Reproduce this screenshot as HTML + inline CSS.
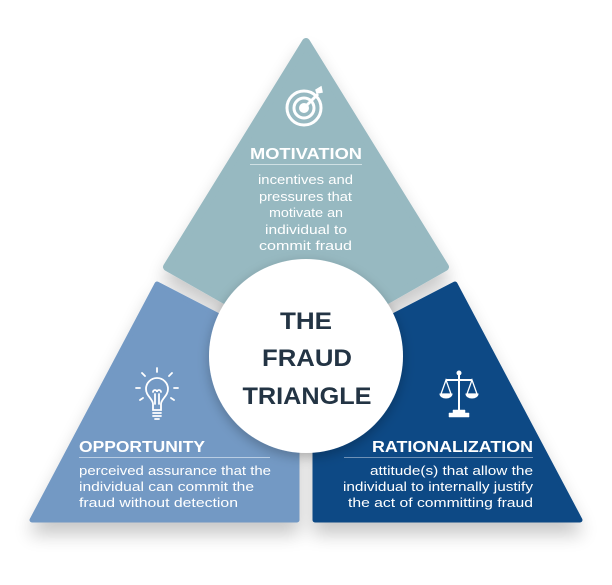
<!DOCTYPE html>
<html><head><style>
html,body{margin:0;padding:0;background:#fff;}
svg{display:block;font-family:"Liberation Sans",sans-serif;}
</style></head><body>
<svg width="612" height="585" viewBox="0 0 612 585" xmlns="http://www.w3.org/2000/svg">
<defs>
<filter id="sh" x="-20%" y="-20%" width="140%" height="150%">
<feGaussianBlur in="SourceAlpha" stdDeviation="9"/>
<feOffset dx="0" dy="12"/>
<feComponentTransfer><feFuncA type="linear" slope="0.22"/></feComponentTransfer>
<feMerge><feMergeNode/><feMergeNode in="SourceGraphic"/></feMerge>
</filter>
<filter id="sh2" x="-20%" y="-20%" width="140%" height="140%">
<feGaussianBlur in="SourceAlpha" stdDeviation="6"/>
<feOffset dx="0" dy="4"/>
<feComponentTransfer><feFuncA type="linear" slope="0.25"/></feComponentTransfer>
<feMerge><feMergeNode/><feMergeNode in="SourceGraphic"/></feMerge>
</filter>
</defs>
<g filter="url(#sh)">
<polygon points="306,42 445,267 387,300 306,320 225,300 167,267" fill="#97b9c1" stroke="#97b9c1" stroke-width="8" stroke-linejoin="round"/>
<polygon points="157,284 217,315 297,358 297,520 32,520" fill="#7399c4" stroke="#7399c4" stroke-width="5" stroke-linejoin="round"/>
<polygon points="455,284 395,315 315,358 315,520 580,520" fill="#0d4a85" stroke="#0d4a85" stroke-width="5" stroke-linejoin="round"/>
</g>
<circle cx="306" cy="356" r="97" fill="#fff" filter="url(#sh2)"/>
<g fill="#233444" font-weight="bold" font-size="24" text-anchor="middle">
<text x="306" y="329" textLength="52" lengthAdjust="spacingAndGlyphs">THE</text>
<text x="307" y="366" textLength="90" lengthAdjust="spacingAndGlyphs">FRAUD</text>
<text x="307" y="404" textLength="129" lengthAdjust="spacingAndGlyphs">TRIANGLE</text>
</g>
<!-- target icon -->
<g fill="none" stroke="#fff" stroke-width="3">
<circle cx="304" cy="108" r="17"/>
<circle cx="304" cy="108" r="10"/>
<circle cx="304" cy="108" r="3.5" fill="#fff"/>
<line x1="305" y1="107" x2="318" y2="94"/>
<path d="M316,90 l5,-3 l1,5 l-5,1z" fill="#fff" stroke-width="1.5"/>
</g>
<g fill="#fff">
<text x="250" y="159" font-weight="bold" font-size="15.5" textLength="112" lengthAdjust="spacingAndGlyphs">MOTIVATION</text>
<rect x="250" y="164" width="112" height="1" fill="#cfe0e4"/>
<g font-size="12.5">
<text x="258" y="184" textLength="95" lengthAdjust="spacingAndGlyphs">incentives and</text>
<text x="259" y="201" textLength="93" lengthAdjust="spacingAndGlyphs">pressures that</text>
<text x="269" y="217" textLength="74" lengthAdjust="spacingAndGlyphs">motivate an</text>
<text x="265" y="234" textLength="82" lengthAdjust="spacingAndGlyphs">individual to</text>
<text x="259" y="250" textLength="93" lengthAdjust="spacingAndGlyphs">commit fraud</text>
</g>
<text x="79" y="452" font-weight="bold" font-size="15.5" textLength="126" lengthAdjust="spacingAndGlyphs">OPPORTUNITY</text>
<rect x="79" y="457" width="191" height="1" fill="#b9cde3"/>
<g font-size="12.5">
<text x="79" y="475" textLength="192" lengthAdjust="spacingAndGlyphs">perceived assurance that the</text>
<text x="79" y="491" textLength="175" lengthAdjust="spacingAndGlyphs">individual can commit the</text>
<text x="79" y="507" textLength="159" lengthAdjust="spacingAndGlyphs">fraud without detection</text>
</g>
<text x="372" y="452" font-weight="bold" font-size="15.5" textLength="161" lengthAdjust="spacingAndGlyphs">RATIONALIZATION</text>
<rect x="344" y="457" width="189" height="1" fill="#6f91b6"/>
<g font-size="12.5">
<text x="370" y="475" textLength="163" lengthAdjust="spacingAndGlyphs">attitude(s) that allow the</text>
<text x="343" y="491" textLength="190" lengthAdjust="spacingAndGlyphs">individual to internally justify</text>
<text x="348" y="507" textLength="185" lengthAdjust="spacingAndGlyphs">the act of committing fraud</text>
</g>
</g>
<!-- bulb -->
<g fill="none" stroke="#fff" stroke-width="1.8" stroke-linecap="round">
<path d="M153,410 v-6 c0,-5 -7,-8 -7,-15 a11,11 0 0 1 22,0 c0,7 -7,10 -7,15 v6z"/>
<path d="M155,404 v-10 M159,404 v-10 M153,392 a2,2 0 0 1 4,0 a2,2 0 0 1 4,0"/>
<path d="M153,413 h8 M153,416 h8 M155,419 h4"/>
<path d="M157,372 v-4 M145,376 l-3,-3 M169,376 l3,-3 M140,388 h-4 M174,388 h4 M143,398 l-3,2 M171,398 l3,2"/>
</g>
<!-- scales -->
<g fill="#fff" stroke="#fff">
<circle cx="459" cy="373" r="2"/>
<line x1="459" y1="375" x2="459" y2="410" stroke-width="2"/>
<line x1="446" y1="380" x2="472" y2="380" stroke-width="2"/>
<path d="M446,380 l-5,14 h10z M472,380 l-5,14 h10z" fill="none" stroke-width="1.3"/>
<path d="M440,394 h12 a6,4 0 0 1 -12,0z M466,394 h12 a6,4 0 0 1 -12,0z" stroke-width="1"/>
<path d="M453,410 h12 v3 h4 v4 h-20 v-4 h4z" stroke-width="0.5"/>
</g>
</svg>
</body></html>
